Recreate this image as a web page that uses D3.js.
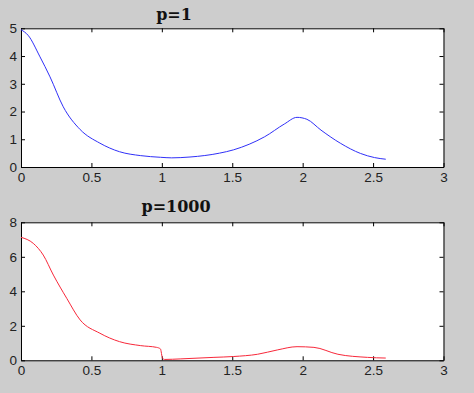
<!DOCTYPE html>
<html>
<head>
<meta charset="utf-8">
<script src="https://cdn.jsdelivr.net/npm/d3@7"></script>
<style>
  html, body { margin: 0; padding: 0; background: #cdcdcd; }
  svg { display: block; }
</style>
</head>
<body>
<svg id="chart" width="474" height="393"></svg>
<script>
// ---- data ----
const xTicks = [0, 0.5, 1, 1.5, 2, 2.5, 3];
const yTicksTop = [0, 1, 2, 3, 4, 5];
const yTicksBottom = [0, 2, 4, 6, 8];

const xP1 = [0, 0.05, 0.135, 0.206, 0.30, 0.42, 0.56, 0.70, 0.85, 0.99, 1.07, 1.2, 1.41, 1.51, 1.62, 1.73, 1.87, 1.96, 2.03, 2.13, 2.27, 2.41, 2.51, 2.59];
const yP1 = [4.95, 4.75, 3.97, 3.25, 2.17, 1.35, 0.86, 0.55, 0.41, 0.35, 0.33, 0.36, 0.5, 0.62, 0.82, 1.09, 1.55, 1.79, 1.72, 1.33, 0.85, 0.49, 0.34, 0.28];

const xP1000 = [0, 0.087, 0.158, 0.23, 0.325, 0.42, 0.56, 0.70, 0.85, 0.963, 0.99, 1.005, 1.02, 1.13, 1.37, 1.51, 1.68, 1.82, 1.96, 2.08, 2.25, 2.46, 2.59];
const yP1000 = [7.13, 6.78, 6.1, 4.94, 3.59, 2.34, 1.57, 1.08, 0.85, 0.75, 0.66, 0.12, 0.05, 0.08, 0.17, 0.22, 0.35, 0.6, 0.79, 0.75, 0.35, 0.17, 0.13];

const panels = [
  { title: "p=1", xs: xP1, ys: yP1, yMax: 5, yTicks: yTicksTop, color: "#3030f8",
    top: 28.3, bottom: 167, titleX: 174, titleY: 20 },
  { title: "p=1000", xs: xP1000, ys: yP1000, yMax: 8, yTicks: yTicksBottom, color: "#f8283a",
    top: 222.3, bottom: 360.3, titleX: 176, titleY: 212 }
];

const left = 21, right = 443.5;
const svg = d3.select("#chart");

panels.forEach(p => {
  const x = d3.scaleLinear().domain([0, 3]).range([left, right]);
  const y = d3.scaleLinear().domain([0, p.yMax]).range([p.bottom, p.top]);
  const g = svg.append("g");

  g.append("rect")
    .attr("x", left).attr("y", p.top)
    .attr("width", right - left).attr("height", p.bottom - p.top)
    .attr("fill", "#ffffff");

  const styleAxis = sel => {
    sel.attr("font-size", null).attr("font-family", null);
    sel.selectAll("path.domain").attr("stroke", "#000").attr("stroke-width", 1);
    sel.selectAll(".tick line").attr("stroke", "#000");
    sel.selectAll(".tick text")
      .attr("fill", "#222")
      .style("font-family", "'Liberation Sans', Arial, sans-serif")
      .style("font-size", "13.5px");
  };

  g.append("g").attr("transform", `translate(0,${p.bottom})`)
    .call(d3.axisBottom(x).tickValues(xTicks).tickFormat(d3.format("")).tickSize(-4).tickPadding(5).tickSizeOuter(0))
    .call(styleAxis);
  g.append("g").attr("transform", `translate(0,${p.top})`)
    .call(d3.axisTop(x).tickValues(xTicks).tickFormat("").tickSize(-4).tickSizeOuter(0))
    .call(styleAxis);
  g.append("g").attr("transform", `translate(${left},0)`)
    .call(d3.axisLeft(y).tickValues(p.yTicks).tickFormat(d3.format("")).tickSize(-4).tickPadding(4).tickSizeOuter(0))
    .call(styleAxis);
  g.append("g").attr("transform", `translate(${right},0)`)
    .call(d3.axisRight(y).tickValues(p.yTicks).tickFormat("").tickSize(-4).tickSizeOuter(0))
    .call(styleAxis);

  const pts = p.xs.map((v, i) => [v, p.ys[i]]);
  g.append("path")
    .datum(pts)
    .attr("fill", "none")
    .attr("stroke", p.color)
    .attr("stroke-width", 1)
    .attr("d", d3.line().x(d => x(d[0])).y(d => y(d[1])).curve(d3.curveMonotoneX));

  svg.append("text")
    .attr("x", p.titleX).attr("y", p.titleY)
    .attr("text-anchor", "middle")
    .attr("font-family", "'DejaVu Serif', serif")
    .attr("font-weight", "bold")
    .attr("font-size", "16px")
    .attr("fill", "#111")
    .text(p.title);
});
</script>
</body>
</html>
